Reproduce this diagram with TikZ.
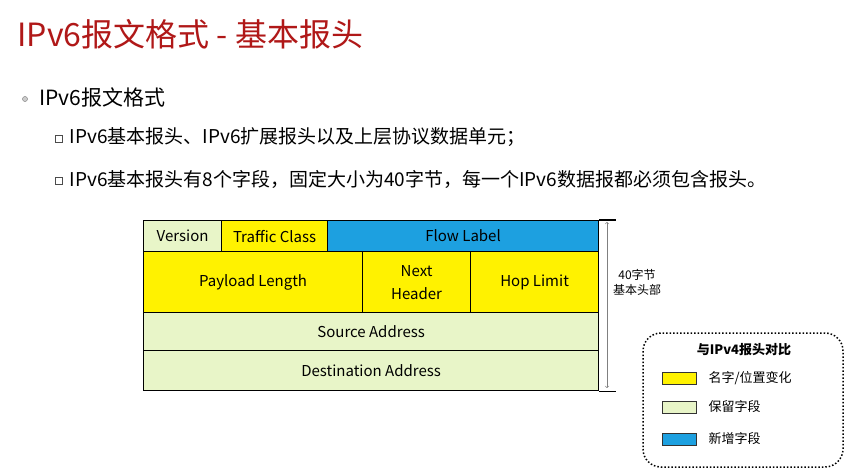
\documentclass[tikz,border=0pt]{standalone}
\usepackage{fontspec}
\setmainfont{Noto Sans CJK SC}
\begin{document}
\begin{tikzpicture}[x=1pt,y=-1pt,
  fld/.style={draw=black,line width=1.2pt,anchor=north west,inner sep=0pt,font=\fontsize{15}{17}\selectfont},
  sw/.style={draw=black!80,line width=1pt,minimum width=34pt,minimum height=12pt,inner sep=0pt},
  lt/.style={anchor=west,font=\fontsize{13}{15}\selectfont}]
\definecolor{yel}{HTML}{FFF200}
\definecolor{grn}{HTML}{E8F5C8}
\definecolor{blu}{HTML}{1DA0E0}
\definecolor{ttl}{HTML}{B01818}
\useasboundingbox[fill=white] (0,0) rectangle (862,476);
\node[anchor=west,text=ttl,font=\fontsize{32}{35}\selectfont] (title) at (14,34) {IPv6报文格式 - 基本报头};
\node[circle,draw=gray,fill=gray!40,inner sep=1.8pt] (b1) at (25,99) {};
\node[anchor=west,font=\fontsize{21}{24}\selectfont] (t1) at (36,97) {IPv6报文格式};
\node[draw=black!70,line width=0.9pt,minimum size=7pt,inner sep=0pt] (b2) at (59,139) {};
\node[anchor=west,font=\fontsize{19}{22}\selectfont] (t2) at (66,137) {IPv6基本报头、IPv6扩展报头以及上层协议数据单元；};
\node[draw=black!70,line width=0.9pt,minimum size=7pt,inner sep=0pt] (b3) at (59,181) {};
\node[anchor=west,font=\fontsize{19}{22}\selectfont] (t3) at (66,179) {IPv6基本报头有8个字段，固定大小为40字节，每一个IPv6数据报都必须包含报头。};
% fields
\node[fld,fill=grn,minimum width=78pt,minimum height=31pt] (ver) at (143,220) {Version};
\node[fld,fill=yel,minimum width=106pt,minimum height=31pt] (tc) at (221,220) {Traffic Class};
\node[fld,fill=blu,minimum width=271pt,minimum height=31pt] (fl) at (327,220) {Flow Label};
\node[fld,fill=yel,minimum width=219pt,minimum height=61pt] (pl) at (143,251) {Payload Length};
\node[fld,fill=yel,minimum width=108pt,minimum height=61pt,align=center] (nh) at (362,251) {Next\\[6pt]Header};
\node[fld,fill=yel,minimum width=128pt,minimum height=61pt] (hl) at (470,251) {Hop Limit};
\node[fld,fill=grn,minimum width=455pt,minimum height=38pt] (sa) at (143,312) {Source Address};
\node[fld,fill=grn,minimum width=455pt,minimum height=40pt] (da) at (143,350) {Destination Address};
\draw[line width=1.2pt] (fl.north east) -- ++(17,0) coordinate (tt);
\draw[line width=1.2pt] (da.south east) -- ++(17,0) coordinate (tb);
\coordinate (at) at (607,222);
\coordinate (ab) at (607,388);
\draw[<->,gray,line width=0.6pt] (at) -- (ab);
\node[align=center,font=\fontsize{12}{15}\selectfont] (lab) at (637,282) {40字节\\基本头部};
% legend
\draw[dotted,line width=1.5pt,rounded corners=18pt] (643,333) rectangle (843,467);
\node[font=\bfseries\fontsize{13}{15}\selectfont] (lt0) at (744,350) {与IPv4报头对比};
\node[sw,fill=yel] (s1) at (679,378) {};
\node[sw,fill=grn] (s2) at (679,407) {};
\node[sw,fill=blu] (s3) at (679,439) {};
\node[lt] (l1) at (705,378) {名字/位置变化};
\node[lt] (l2) at (705,407) {保留字段};
\node[lt] (l3) at (705,439) {新增字段};
\end{tikzpicture}
\end{document}
